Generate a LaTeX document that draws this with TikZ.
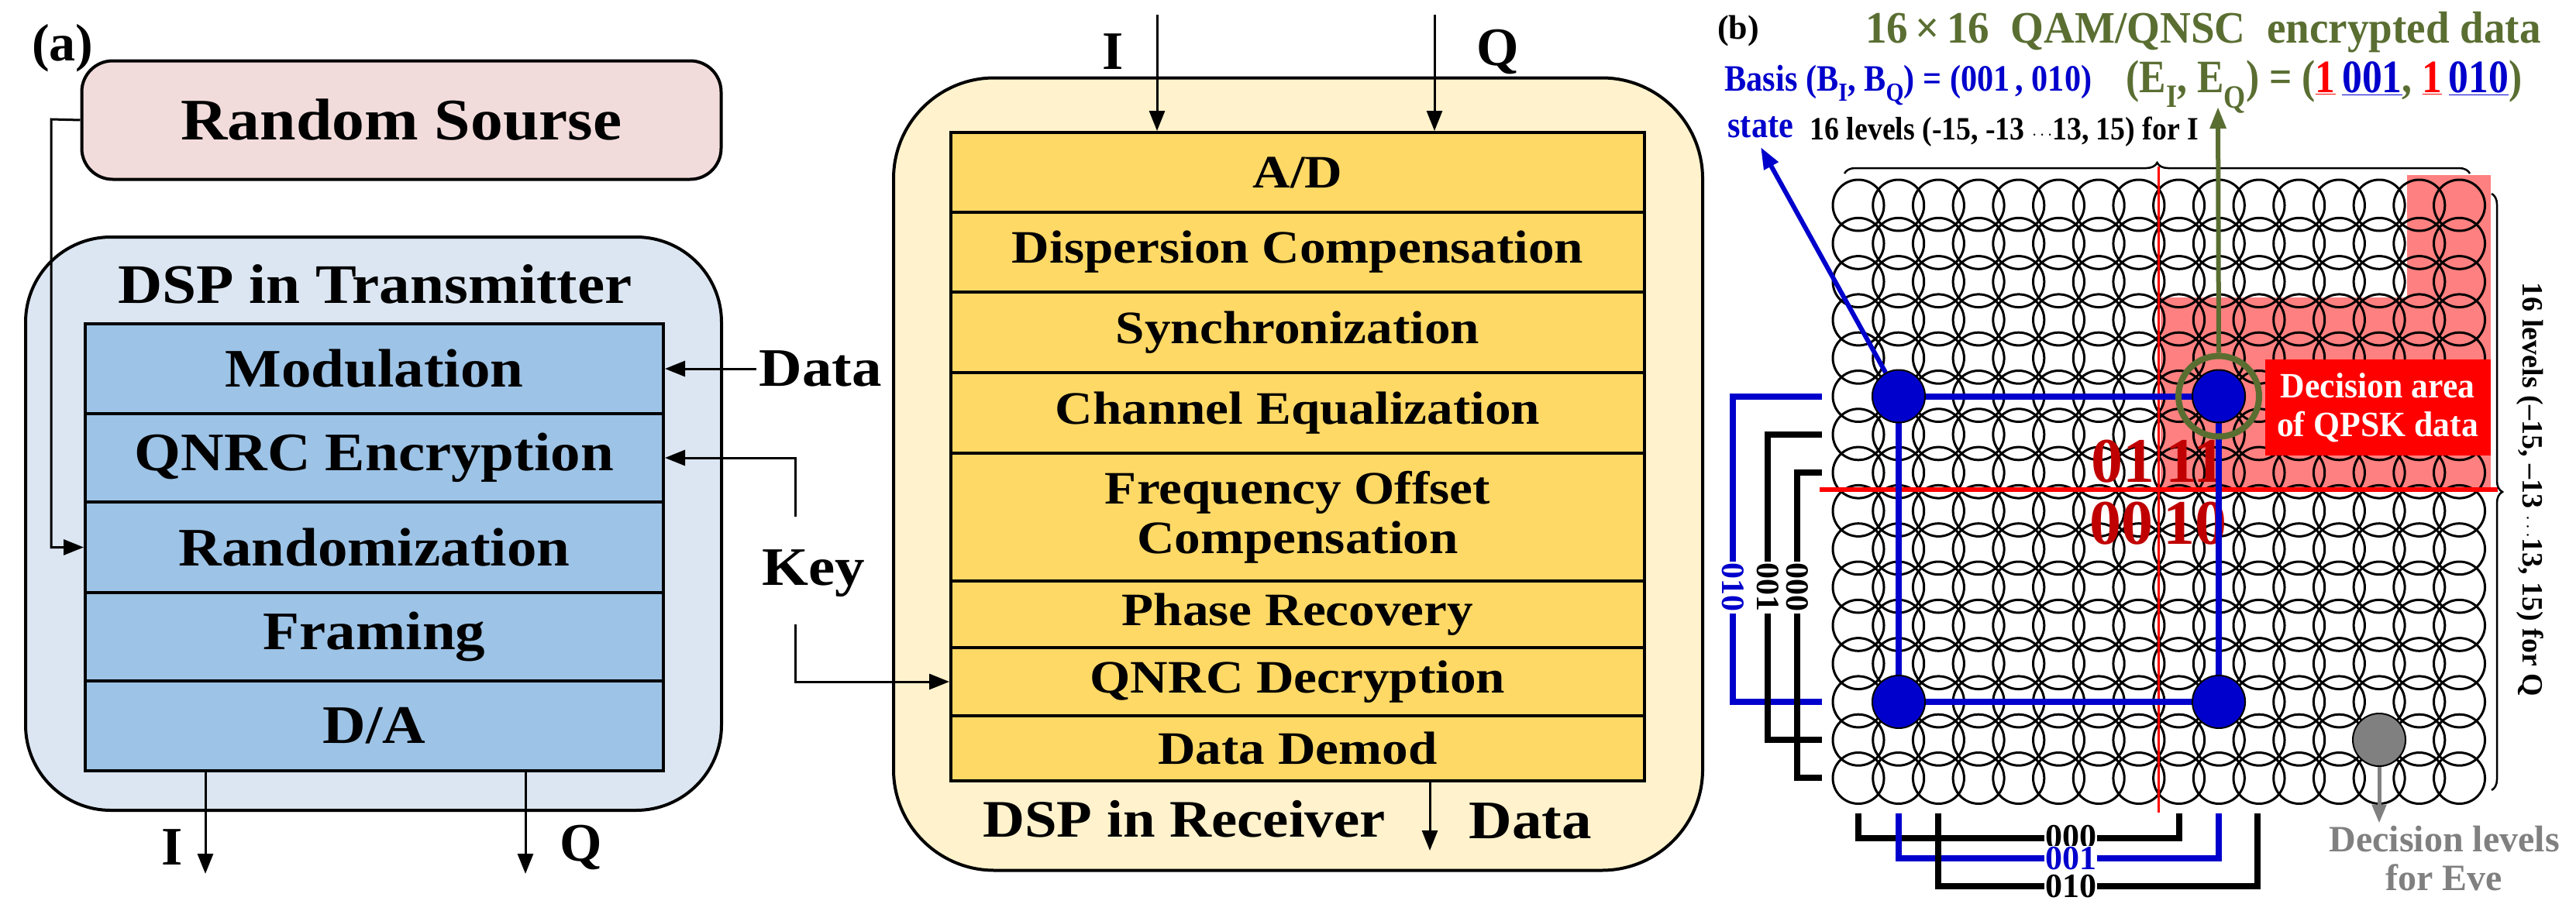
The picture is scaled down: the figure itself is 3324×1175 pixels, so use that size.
\documentclass[tikz,border=0pt]{standalone}
\usepackage{fontspec}
\setmainfont{Liberation Serif}
\usetikzlibrary{arrows.meta,decorations.pathreplacing}
\definecolor{txout}{RGB}{220,230,242}
\definecolor{txrow}{RGB}{157,195,230}
\definecolor{rxout}{RGB}{255,242,204}
\definecolor{rxrow}{RGB}{255,217,102}
\definecolor{rsfill}{RGB}{242,220,219}
\definecolor{olive}{RGB}{90,110,50}
\definecolor{qblue}{RGB}{0,0,204}
\definecolor{pink}{RGB}{255,128,128}
\definecolor{dred}{RGB}{192,0,0}
\newcommand{\fs}[1]{\fontsize{#1}{#1}\selectfont\bfseries}
\newcommand{\sqz}[2]{\scalebox{#1}[1]{#2}}
\begin{document}
\begin{tikzpicture}[x=1pt,y=-1pt,
  box/.style={draw,line width=4pt},
  txr/.style={box,fill=txrow,minimum width=746pt,font=\fs{70},inner sep=0pt},
  rxr/.style={box,fill=rxrow,minimum width=895pt,font=\fs{60},inner sep=0pt,align=center},
  arr/.style={line width=3pt,-{Triangle[length=26pt,width=20pt]}},
  lab/.style={font=\fs{70}},
  brk/.style={line width=8pt}]
\useasboundingbox (0,0) rectangle (3324,1175);
% ---------- panel (a) transmitter
\node[box,fill=rsfill,rounded corners=40pt,minimum width=825pt,minimum height=153pt,font=\fs{76}] (rs) at (518,155) {\sqz{1.1}{Random Sourse}};
\node[font=\fs{68}] (pa) at (81,62) {(a)};
\node[box,fill=txout,rounded corners=110pt,minimum width=898pt,minimum height=740pt] (txo) at (482,676) {};
\node[font=\fs{72}] (txt) at (484,367) {\sqz{1.1}{DSP in Transmitter}};
\node[txr,minimum height=116pt] (mod) at (483,476) {\sqz{1.1}{Modulation}};
\node[txr,minimum height=114pt] (enc) at (483,591) {\sqz{1.1}{QNRC Encryption}};
\node[txr,minimum height=117pt] (rnd) at (483,706.5) {\sqz{1.1}{Randomization}};
\node[txr,minimum height=114pt] (frm) at (483,822) {\sqz{1.1}{Framing}};
\node[txr,minimum height=116pt] (da) at (483,937) {\sqz{1.1}{D/A}};
\coordinate (rsl) at (66,154);
\draw[arr] (rs.west) -- (rsl) |- (rnd.west);
\node[lab] (datatx) at (1059,476) {\sqz{1.1}{Data}};
\draw[arr] (datatx.west) -- (mod.east);
\node[lab] (key) at (1050,740) {\sqz{1.1}{Key}};
\coordinate (k1) at (1026,667);
\coordinate (k2) at (1026,806);
\draw[arr] (k1) |- (enc.east);
\coordinate (io) at (265,1128);
\coordinate (qo) at (678,1128);
\draw[arr] (da.south -| io) -- (io);
\draw[arr] (da.south -| qo) -- (qo);
\node[lab] (ilab) at (222,1094) {I};
\node[lab] (qlab) at (750,1094) {Q};
% ---------- receiver
\node[box,fill=rxout,rounded corners=130pt,minimum width=1044pt,minimum height=1023pt] (rxo) at (1675,612) {};
\node[rxr,minimum height=103pt] (ad) at (1674.5,222.5) {\sqz{1.12}{A/D}};
\node[rxr,minimum height=103pt] (dc) at (1674.5,325.5) {\sqz{1.12}{Dispersion Compensation}};
\node[rxr,minimum height=104pt] (syn) at (1674.5,429) {\sqz{1.12}{Synchronization}};
\node[rxr,minimum height=104pt] (ceq) at (1674.5,533) {\sqz{1.12}{Channel Equalization}};
\node[rxr,minimum height=165pt] (fo) at (1674.5,667.5) {\sqz{1.12}{Frequency Offset}\\[4pt]\sqz{1.12}{Compensation}};
\node[rxr,minimum height=86pt] (pr) at (1674.5,793) {\sqz{1.12}{Phase Recovery}};
\node[rxr,minimum height=88pt] (qd) at (1674.5,880) {\sqz{1.12}{QNRC Decryption}};
\node[rxr,minimum height=84pt] (dd) at (1674.5,966) {\sqz{1.12}{Data Demod}};
\draw[arr] (k2) |- (qd.west);
\coordinate (ii) at (1493,19);
\coordinate (qi) at (1851,19);
\draw[arr] (ii) -- (ii |- ad.north);
\draw[arr] (qi) -- (qi |- ad.north);
\node[lab] (ilr) at (1436,67) {I};
\node[lab] (qlr) at (1933,67) {Q};
\node[font=\fs{68}] (rxt) at (1528,1057) {\sqz{1.1}{DSP in Receiver}};
\coordinate (dout) at (1845,1098);
\draw[arr] (dd.south -| dout) -- (dout);
\node[lab] (datarx) at (1975,1060) {\sqz{1.1}{Data}};
% ---------- panel (b)
\fill[pink] (3106,226) rectangle (3214,384);
\fill[pink] (2788,384) rectangle (3214,632);
\foreach \i in {0,...,15}{\foreach \j in {0,...,15}{
  \draw[line width=3pt] (2398+51.7*\i,265+49.3*\j) circle[radius=33pt];}}
\draw[red,line width=3pt] (2785,215) -- (2785,1049);
\draw[red,line width=6pt] (2348,632) -- (3223,632);
\node[fill=red,text=white,minimum width=291pt,minimum height=124pt,align=center,inner sep=0pt,font=\fs{46}] (dec) at (3068,526) {\sqz{0.95}{Decision area}\\[4pt]\sqz{0.95}{of QPSK data}};
\node[text=dred,font=\fs{82}] (t0111) at (2785,596) {01\,11};
\node[text=dred,font=\fs{82}] (t0010) at (2785,676) {00\,10};
% brackets left
\draw[brk,qblue] (2351,511.5) -- (2236,511.5) -- (2236,906) -- (2351,906);
\draw[brk] (2351,561) -- (2281,561) -- (2281,955) -- (2351,955);
\draw[brk] (2351,610) -- (2319,610) -- (2319,1004) -- (2351,1004);
\node[fill=white,inner sep=2pt,rotate=-90,text=qblue,font=\fs{42}] (l010) at (2236,758) {010};
\node[fill=white,inner sep=2pt,rotate=-90,font=\fs{42}] (l001) at (2281,758) {001};
\node[fill=white,inner sep=2pt,rotate=-90,font=\fs{42}] (l000) at (2319,758) {000};
% brackets bottom
\draw[brk] (2398,1050) -- (2398,1082) -- (2812,1082) -- (2812,1050);
\draw[brk,qblue] (2450,1050) -- (2450,1108) -- (2863,1108) -- (2863,1050);
\draw[brk] (2501,1050) -- (2501,1144) -- (2913,1144) -- (2913,1050);
\node[fill=white,inner sep=1pt,font=\fs{44}] (b000) at (2672,1080) {000};
\node[fill=white,inner sep=1pt,text=qblue,font=\fs{44}] (b001) at (2672,1108) {001};
\node[fill=white,inner sep=1pt,font=\fs{44}] (b010) at (2672,1144) {010};
% blue states
\draw[qblue,line width=8pt] (2450,511.5) rectangle (2863,906);
\foreach \p/\n in {{2450,511.5}/d1,{2863,511.5}/d2,{2450,906}/d3,{2863,906}/d4}{
  \node[circle,fill=qblue,draw=black,line width=2pt,minimum size=68pt,inner sep=0pt] (\n) at (\p) {};}
\node[circle,draw=olive,line width=8pt,minimum size=104pt,inner sep=0pt] (ring) at (2863,511.5) {};
\node[circle,fill=gray,draw=black,line width=2pt,minimum size=68pt,inner sep=0pt] (eve) at (3070,955) {};
\node[text=gray,font=\fs{48},align=center] (evet) at (3154,1108) {Decision levels\\[2pt]for Eve};
\draw[gray,line width=5pt,-{Triangle[length=24pt,width=18pt]}] (eve) -- (eve |- evet.north);
% texts top
\node[font=\fs{44}] (pb) at (2243,40) {(b)};
\node[text=olive,font=\fs{58}] (title) at (2843,42) {\sqz{0.95}{16\,×\,16\ \ QAM/QNSC\ \ encrypted data}};
\node[text=qblue,font=\fs{48},anchor=west] (basis) at (2222,110) {\sqz{0.88}{Basis (B\textsubscript{I}, B\textsubscript{Q}) = (001\,, 010)}};
\node[text=qblue,font=\fs{48},anchor=west] (state) at (2226,164) {\sqz{0.88}{state}};
\node[text=olive,font=\fs{60},anchor=west] (eq) at (2740,112) {\sqz{0.86}{(E\textsubscript{I}, E\textsubscript{Q}) = (\textcolor{red}{\underline{1}}\,\textcolor{qblue}{\underline{001}}, \textcolor{red}{\underline{1}}\,\textcolor{qblue}{\underline{010}})}};
\node[font=\fs{42},anchor=west] (levI) at (2332,170) {\sqz{0.9}{16 levels (-15, -13 $\cdots$13, 15) for I}};
\draw[line width=2.5pt,decorate,decoration={brace,amplitude=14pt}] (2380,224) -- (3187,224);
\draw[line width=2.5pt,decorate,decoration={brace,amplitude=14pt}] (3215,250) -- (3215,1020);
\node[rotate=-90,font=\fs{38}] (levQ) at (3265,632) {16 levels (–15, –13 $\cdots$13, 15) for Q};
\draw[qblue,line width=6pt,-{Triangle[length=28pt,width=20pt]}] (d1) -- (2272,190);
\draw[olive,line width=6pt,-{Triangle[length=28pt,width=20pt]}] (ring.north) -- (2862,138);
\end{tikzpicture}
\end{document}
